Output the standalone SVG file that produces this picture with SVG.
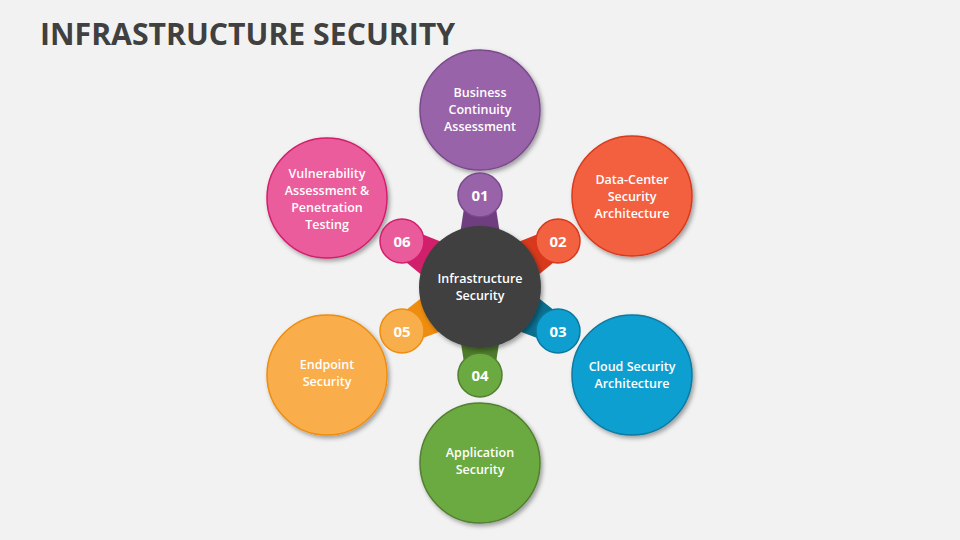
<svg xmlns="http://www.w3.org/2000/svg" width="960" height="540" viewBox="0 0 960 540">
<defs>
<filter id="sh" x="-20%" y="-20%" width="150%" height="150%">
<feDropShadow dx="2" dy="2.5" stdDeviation="2" flood-color="#000" flood-opacity="0.35"/>
</filter>
</defs>
<style>
.title{font-family:"Open Sans","Liberation Sans",sans-serif;font-weight:700;font-size:30px;fill:#404040}
.lbl{font-family:"Open Sans","Liberation Sans",sans-serif;font-weight:600;font-size:12.5px;fill:#fff;text-anchor:middle}
.num{font-family:"Open Sans","Liberation Sans",sans-serif;font-weight:700;font-size:15px;fill:#fff;text-anchor:middle}
.big{stroke-width:1.5;filter:url(#sh)}
.sm{stroke-width:1.5}
</style>
<rect width="960" height="540" fill="#f2f2f2"/>
<text class="title" x="40" y="45" textLength="415" lengthAdjust="spacingAndGlyphs">INFRASTRUCTURE SECURITY</text>

<g id="connectors">
<polygon points="466,195 494,195 508,287 452,287" fill="#6f3e80"/>
<polygon points="550.8,229 565.2,253 494.4,311 465.6,263" fill="#d8391c"/>
<polygon points="564.9,318.8 551.1,343.2 466.3,311.4 493.7,262.6" fill="#0b6f90"/>
<polygon points="466,375 494,375 508,287 452,287" fill="#4e7a2c"/>
<polygon points="395.1,318.8 408.9,343.2 493.7,311.4 466.3,262.6" fill="#ee8d0f"/>
<polygon points="409.2,229 394.8,253 465.6,311 494.4,263" fill="#d21f6c"/>
</g>

<g id="node01">
<circle class="big" cx="480" cy="110" r="60" fill="#9863a8" stroke="#7a4a8c"/>
<text class="lbl" x="480" y="96.5">Business</text>
<text class="lbl" x="480" y="113.5">Continuity</text>
<text class="lbl" x="480" y="130.5">Assessment</text>
<circle class="sm" cx="480" cy="195" r="22" fill="#9863a8" stroke="#7a4a8c"/>
<text class="num" x="480" y="200.5">01</text>
</g>

<g id="node02">
<circle class="big" cx="632" cy="196" r="60" fill="#f26140" stroke="#d8391c"/>
<text class="lbl" x="632" y="183.5">Data-Center</text>
<text class="lbl" x="632" y="200.5">Security</text>
<text class="lbl" x="632" y="217.5">Architecture</text>
<circle class="sm" cx="558" cy="241" r="22" fill="#f26140" stroke="#d8391c"/>
<text class="num" x="558" y="246.5">02</text>
</g>

<g id="node03">
<circle class="big" cx="632" cy="375" r="60" fill="#0e9fd0" stroke="#0a79a0"/>
<text class="lbl" x="632" y="370.5">Cloud Security</text>
<text class="lbl" x="632" y="387.5">Architecture</text>
<circle class="sm" cx="558" cy="331" r="22" fill="#0e9fd0" stroke="#0a79a0"/>
<text class="num" x="558" y="336.5">03</text>
</g>

<g id="node04">
<circle class="big" cx="480" cy="463" r="60" fill="#6aaa40" stroke="#527f30"/>
<text class="lbl" x="480" y="456.5">Application</text>
<text class="lbl" x="480" y="473.5">Security</text>
<circle class="sm" cx="480" cy="375" r="22" fill="#6aaa40" stroke="#527f30"/>
<text class="num" x="480" y="380.5">04</text>
</g>

<g id="node05">
<circle class="big" cx="327" cy="375" r="60" fill="#f9ae4c" stroke="#ee8d0f"/>
<text class="lbl" x="327" y="368.5">Endpoint</text>
<text class="lbl" x="327" y="385.5">Security</text>
<circle class="sm" cx="402" cy="331" r="22" fill="#f9ae4c" stroke="#ee8d0f"/>
<text class="num" x="402" y="336.5">05</text>
</g>

<g id="node06">
<circle class="big" cx="327" cy="198" r="60" fill="#ea5b9b" stroke="#d21f6c"/>
<text class="lbl" x="327" y="177.5">Vulnerability</text>
<text class="lbl" x="327" y="194.5">Assessment &amp;</text>
<text class="lbl" x="327" y="211.5">Penetration</text>
<text class="lbl" x="327" y="228.5">Testing</text>
<circle class="sm" cx="402" cy="241" r="22" fill="#ea5b9b" stroke="#d21f6c"/>
<text class="num" x="402" y="246.5">06</text>
</g>

<g id="center">
<circle cx="480" cy="287" r="61" fill="#404040" filter="url(#sh)"/>
<text class="lbl" x="480" y="282.5">Infrastructure</text>
<text class="lbl" x="480" y="299.5">Security</text>
</g>
</svg>
